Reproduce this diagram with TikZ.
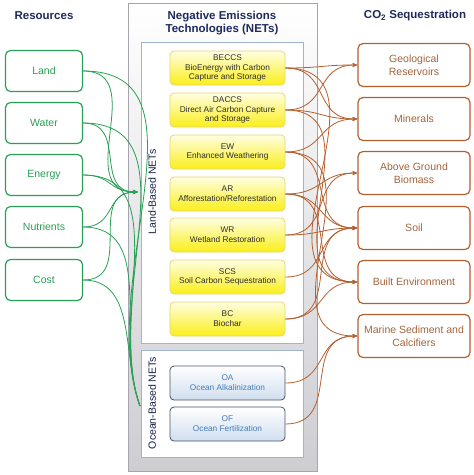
\documentclass[tikz,border=0pt]{standalone}
\usepackage{fontspec}
\setmainfont{Liberation Sans}
\usetikzlibrary{positioning, arrows.meta, calc}
\definecolor{titlenavy}{RGB}{30, 42, 92}
\definecolor{resgreen}{RGB}{40, 160, 85}
\definecolor{sinkbrown}{RGB}{180, 95, 45}
\definecolor{sinktext}{RGB}{165, 100, 60}
\definecolor{panelgray}{RGB}{165, 165, 175}
\definecolor{panelfill}{RGB}{205, 205, 210}
\definecolor{innerline}{RGB}{160, 180, 205}
\definecolor{yellowtop}{RGB}{255, 255, 225}
\definecolor{yellowbot}{RGB}{250, 238, 25}
\definecolor{yellowline}{RGB}{232, 212, 120}
\definecolor{oceantop}{RGB}{255, 255, 255}
\definecolor{oceanbot}{RGB}{208, 222, 238}
\definecolor{oceanline}{RGB}{70, 85, 100}
\definecolor{oceantext}{RGB}{70, 125, 185}
\definecolor{nettext}{RGB}{45, 45, 45}

\tikzset{
  headtitle/.style={font=\fontsize{11.5}{13.5}\selectfont\bfseries, text=titlenavy, align=center},
  resbox/.style={draw=resgreen, very thick, rounded corners=5pt, fill=white, minimum width=77pt, minimum height=41pt, text=resgreen, font=\fontsize{10.5}{12}\selectfont},
  sinkbox/.style={draw=sinkbrown, very thick, rounded corners=5pt, fill=white, minimum width=112pt, minimum height=43pt, text=sinktext, align=center, font=\fontsize{10.5}{13}\selectfont},
  landnet/.style={draw=yellowline, thick, rounded corners=4pt, top color=yellowtop, bottom color=yellowbot, minimum width=115pt, minimum height=34pt, text=nettext, align=center, font=\fontsize{8.3}{9.8}\selectfont},
  oceannet/.style={draw=oceanline, thick, rounded corners=4pt, top color=oceantop, bottom color=oceanbot, minimum width=115pt, minimum height=34pt, text=oceantext, align=center, font=\fontsize{8.3}{9.8}\selectfont},
  sidelabel/.style={rotate=90, text=titlenavy!80!black, font=\fontsize{10.5}{12}\selectfont},
  greenline/.style={draw=resgreen, thick},
  brownline/.style={draw=sinkbrown, thick, -{Stealth[length=5pt,width=4pt]}}
}

\begin{document}
\begin{tikzpicture}[x=1pt, y=-1pt]
\useasboundingbox (0,0) rectangle (474,475);

% panels
\draw[panelgray, thick, top color=white, bottom color=panelfill] (128,3) rectangle (317,471);
\draw[innerline, fill=white] (141,42) rectangle (303,343);
\draw[innerline, fill=white] (141,350) rectangle (303,457);

% titles
\node[headtitle] (restitle) at (44,16) {Resources};
\node[headtitle] (nettitle) at (222,23) {Negative Emissions\\Technologies (NETs)};
\node[headtitle] (co2title) at (415,16) {CO\textsubscript{2} Sequestration};

\node[sidelabel] (landlabel) at (152,192) {Land-Based NETs};
\node[sidelabel] (oceanlabel) at (152,403) {Ocean-Based NETs};

% resources
\node[resbox] (land) at (44,71) {Land};
\node[resbox] (water) at (44,123) {Water};
\node[resbox] (energy) at (44,175) {Energy};
\node[resbox] (nutrients) at (44,227) {Nutrients};
\node[resbox] (cost) at (44,280) {Cost};

% land based NETs
\node[landnet] (beccs) at (227.5,68) {BECCS\\BioEnergy with Carbon\\Capture and Storage};
\node[landnet] (daccs) at (227.5,110) {DACCS\\Direct Air Carbon Capture\\and Storage};
\node[landnet] (ew) at (227.5,152) {EW\\Enhanced Weathering};
\node[landnet] (ar) at (227.5,194) {AR\\Afforestation/Reforestation};
\node[landnet] (wr) at (227.5,235) {WR\\Wetland Restoration};
\node[landnet] (scs) at (227.5,277) {SCS\\Soil Carbon Sequestration};
\node[landnet] (bc) at (227.5,319) {BC\\Biochar};

% ocean based NETs
\node[oceannet] (oa) at (227.5,383) {OA\\Ocean Alkalinization};
\node[oceannet] (of) at (227.5,424) {OF\\Ocean Fertilization};

% sinks
\node[sinkbox] (geo) at (414,65) {Geological\\Reservoirs};
\node[sinkbox] (minerals) at (414,119) {Minerals};
\node[sinkbox] (biomass) at (414,173) {Above Ground\\Biomass};
\node[sinkbox] (soil) at (414,228) {Soil};
\node[sinkbox] (builtenv) at (414,282) {Built Environment};
\node[sinkbox] (marine) at (414,336) {Marine Sediment and\\Calcifiers};

% resource connectors
\coordinate (landin) at (138,192);
\coordinate (oceanin) at (140,406);
\foreach \r in {land, water, energy, nutrients, cost} {
  \draw[greenline, -{Stealth[length=5pt,width=4pt]}] (\r.east) to[out=0, in=180, looseness=1.3] (landin);
  \draw[greenline] (\r.east) to[out=0, in=110] (oceanin);
}

% sequestration connectors
\foreach \n/\s in {beccs/geo, beccs/minerals, beccs/builtenv,
                   daccs/geo, daccs/minerals, daccs/builtenv,
                   ew/minerals, ew/soil, ew/marine,
                   ar/biomass, ar/soil, ar/builtenv,
                   wr/biomass, wr/soil,
                   scs/soil,
                   bc/soil, bc/builtenv,
                   oa/marine, of/marine}
  \draw[brownline] (\n.east) to[out=0, in=180, looseness=1.3] (\s.west);

\end{tikzpicture}
\end{document}
